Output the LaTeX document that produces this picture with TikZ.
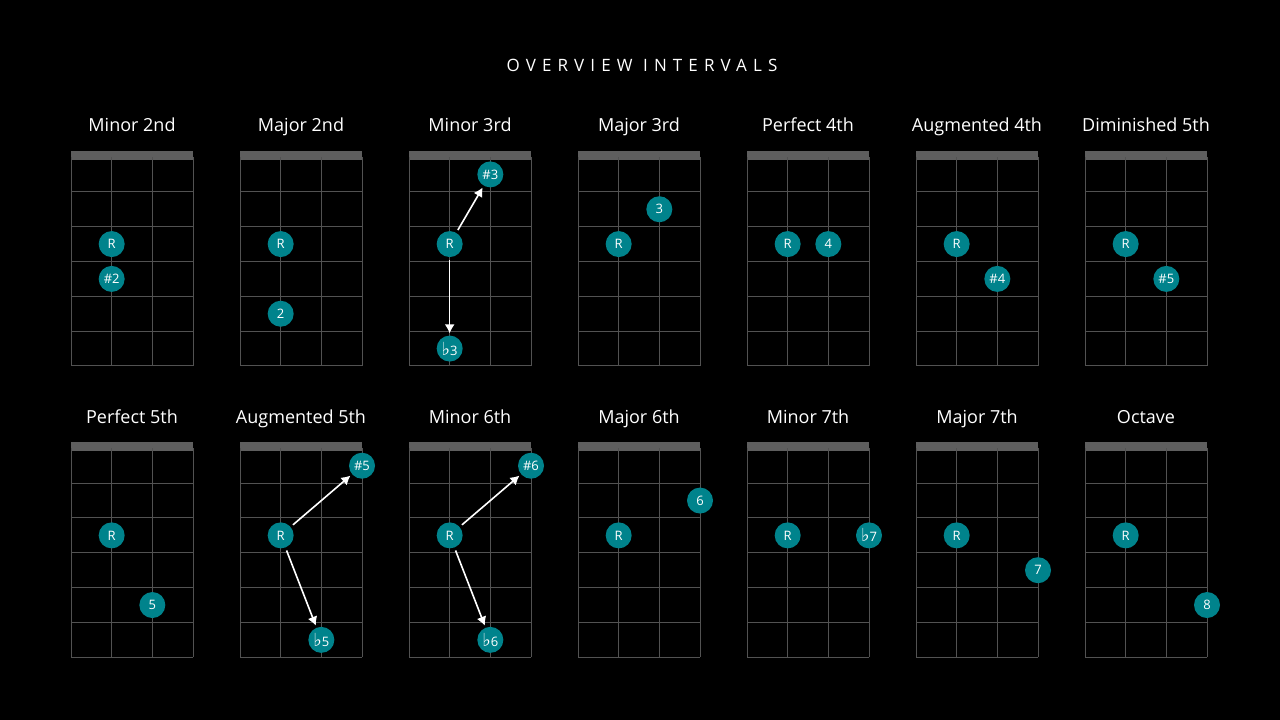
\documentclass[tikz,border=0pt]{standalone}
\usepackage{fontspec}
\setmainfont{Open Sans}
\newfontfamily\symfont{DejaVu Sans}
\newfontfamily\headfont[LetterSpace=36]{Open Sans}
\usetikzlibrary{arrows.meta}
\definecolor{fretgray}{HTML}{525252}
\definecolor{nutgray}{HTML}{5E5E5E}
\definecolor{dotteal}{HTML}{00838C}
\newcommand{\flt}{{\symfont\fontsize{18}{18}\selectfont\char"266D}}
% one fretboard: #1 name of the title node, #2 title
\newcommand{\board}[2]{%
  \fill[nutgray] (0,-0.17) rectangle (3,0.09);
  \foreach \k in {1,...,6} \draw[fretline] (0,\k) -- (3,\k);
  \foreach \c in {0,...,3} \draw[fretline] (\c,0) -- (\c,6);
  \node[boardtitle] (#1) at (1.5,-0.72) {#2};
}

\begin{document}
\begin{tikzpicture}[x=1pt,y=-1pt,
  fretline/.style={fretgray,line width=1pt},
  dot/.style={circle,fill=dotteal,text=white,minimum size=26pt,inner sep=0pt,font=\fontsize{13}{13}\selectfont},
  boardtitle/.style={text=white,anchor=base,font=\fontsize{18}{18}\selectfont},
  jump/.style={white,line width=1.6pt,-{Latex[length=9pt,width=10pt]},shorten <=3pt,shorten >=2pt},
  board/.style={x=40.67pt,y=-34.83pt}]
\fill[black] (0,0) rectangle (1280,720);
\node[text=white,font=\headfont\fontsize{17}{17}\selectfont] (head) at (642,65) {OVERVIEW INTERVALS};

% top row
\begin{scope}[shift={(71,157)},board]
 \board{t1}{Minor 2nd}
 \node[dot] (r1) at (1,2.5) {R};
 \node[dot] (n1) at (1,3.5) {\#2};
\end{scope}
\begin{scope}[shift={(240,157)},board]
 \board{t2}{Major 2nd}
 \node[dot] (r2) at (1,2.5) {R};
 \node[dot] (n2) at (1,4.5) {2};
\end{scope}
\begin{scope}[shift={(409,157)},board]
 \board{t3}{Minor 3rd}
 \node[dot] (r3) at (1,2.5) {R};
 \node[dot] (n3a) at (2,0.5) {\#3};
 \node[dot] (n3b) at (1,5.5) {\flt3};
 \draw[jump] (r3) -- (n3a);
 \draw[jump] (r3) -- (n3b);
\end{scope}
\begin{scope}[shift={(578,157)},board]
 \board{t4}{Major 3rd}
 \node[dot] (r4) at (1,2.5) {R};
 \node[dot] (n4) at (2,1.5) {3};
\end{scope}
\begin{scope}[shift={(747,157)},board]
 \board{t5}{Perfect 4th}
 \node[dot] (r5) at (1,2.5) {R};
 \node[dot] (n5) at (2,2.5) {4};
\end{scope}
\begin{scope}[shift={(916,157)},board]
 \board{t6}{Augmented 4th}
 \node[dot] (r6) at (1,2.5) {R};
 \node[dot] (n6) at (2,3.5) {\#4};
\end{scope}
\begin{scope}[shift={(1085,157)},board]
 \board{t7}{Diminished 5th}
 \node[dot] (r7) at (1,2.5) {R};
 \node[dot] (n7) at (2,3.5) {\#5};
\end{scope}

% bottom row
\begin{scope}[shift={(71,448.3)},board]
 \board{t8}{Perfect 5th}
 \node[dot] (r8) at (1,2.5) {R};
 \node[dot] (n8) at (2,4.5) {5};
\end{scope}
\begin{scope}[shift={(240,448.3)},board]
 \board{t9}{Augmented 5th}
 \node[dot] (r9) at (1,2.5) {R};
 \node[dot] (n9a) at (3,0.5) {\#5};
 \node[dot] (n9b) at (2,5.5) {\flt5};
 \draw[jump] (r9) -- (n9a);
 \draw[jump] (r9) -- (n9b);
\end{scope}
\begin{scope}[shift={(409,448.3)},board]
 \board{t10}{Minor 6th}
 \node[dot] (r10) at (1,2.5) {R};
 \node[dot] (n10a) at (3,0.5) {\#6};
 \node[dot] (n10b) at (2,5.5) {\flt6};
 \draw[jump] (r10) -- (n10a);
 \draw[jump] (r10) -- (n10b);
\end{scope}
\begin{scope}[shift={(578,448.3)},board]
 \board{t11}{Major 6th}
 \node[dot] (r11) at (1,2.5) {R};
 \node[dot] (n11) at (3,1.5) {6};
\end{scope}
\begin{scope}[shift={(747,448.3)},board]
 \board{t12}{Minor 7th}
 \node[dot] (r12) at (1,2.5) {R};
 \node[dot] (n12) at (3,2.5) {\flt7};
\end{scope}
\begin{scope}[shift={(916,448.3)},board]
 \board{t13}{Major 7th}
 \node[dot] (r13) at (1,2.5) {R};
 \node[dot] (n13) at (3,3.5) {7};
\end{scope}
\begin{scope}[shift={(1085,448.3)},board]
 \board{t14}{Octave}
 \node[dot] (r14) at (1,2.5) {R};
 \node[dot] (n14) at (3,4.5) {8};
\end{scope}
\end{tikzpicture}
\end{document}
